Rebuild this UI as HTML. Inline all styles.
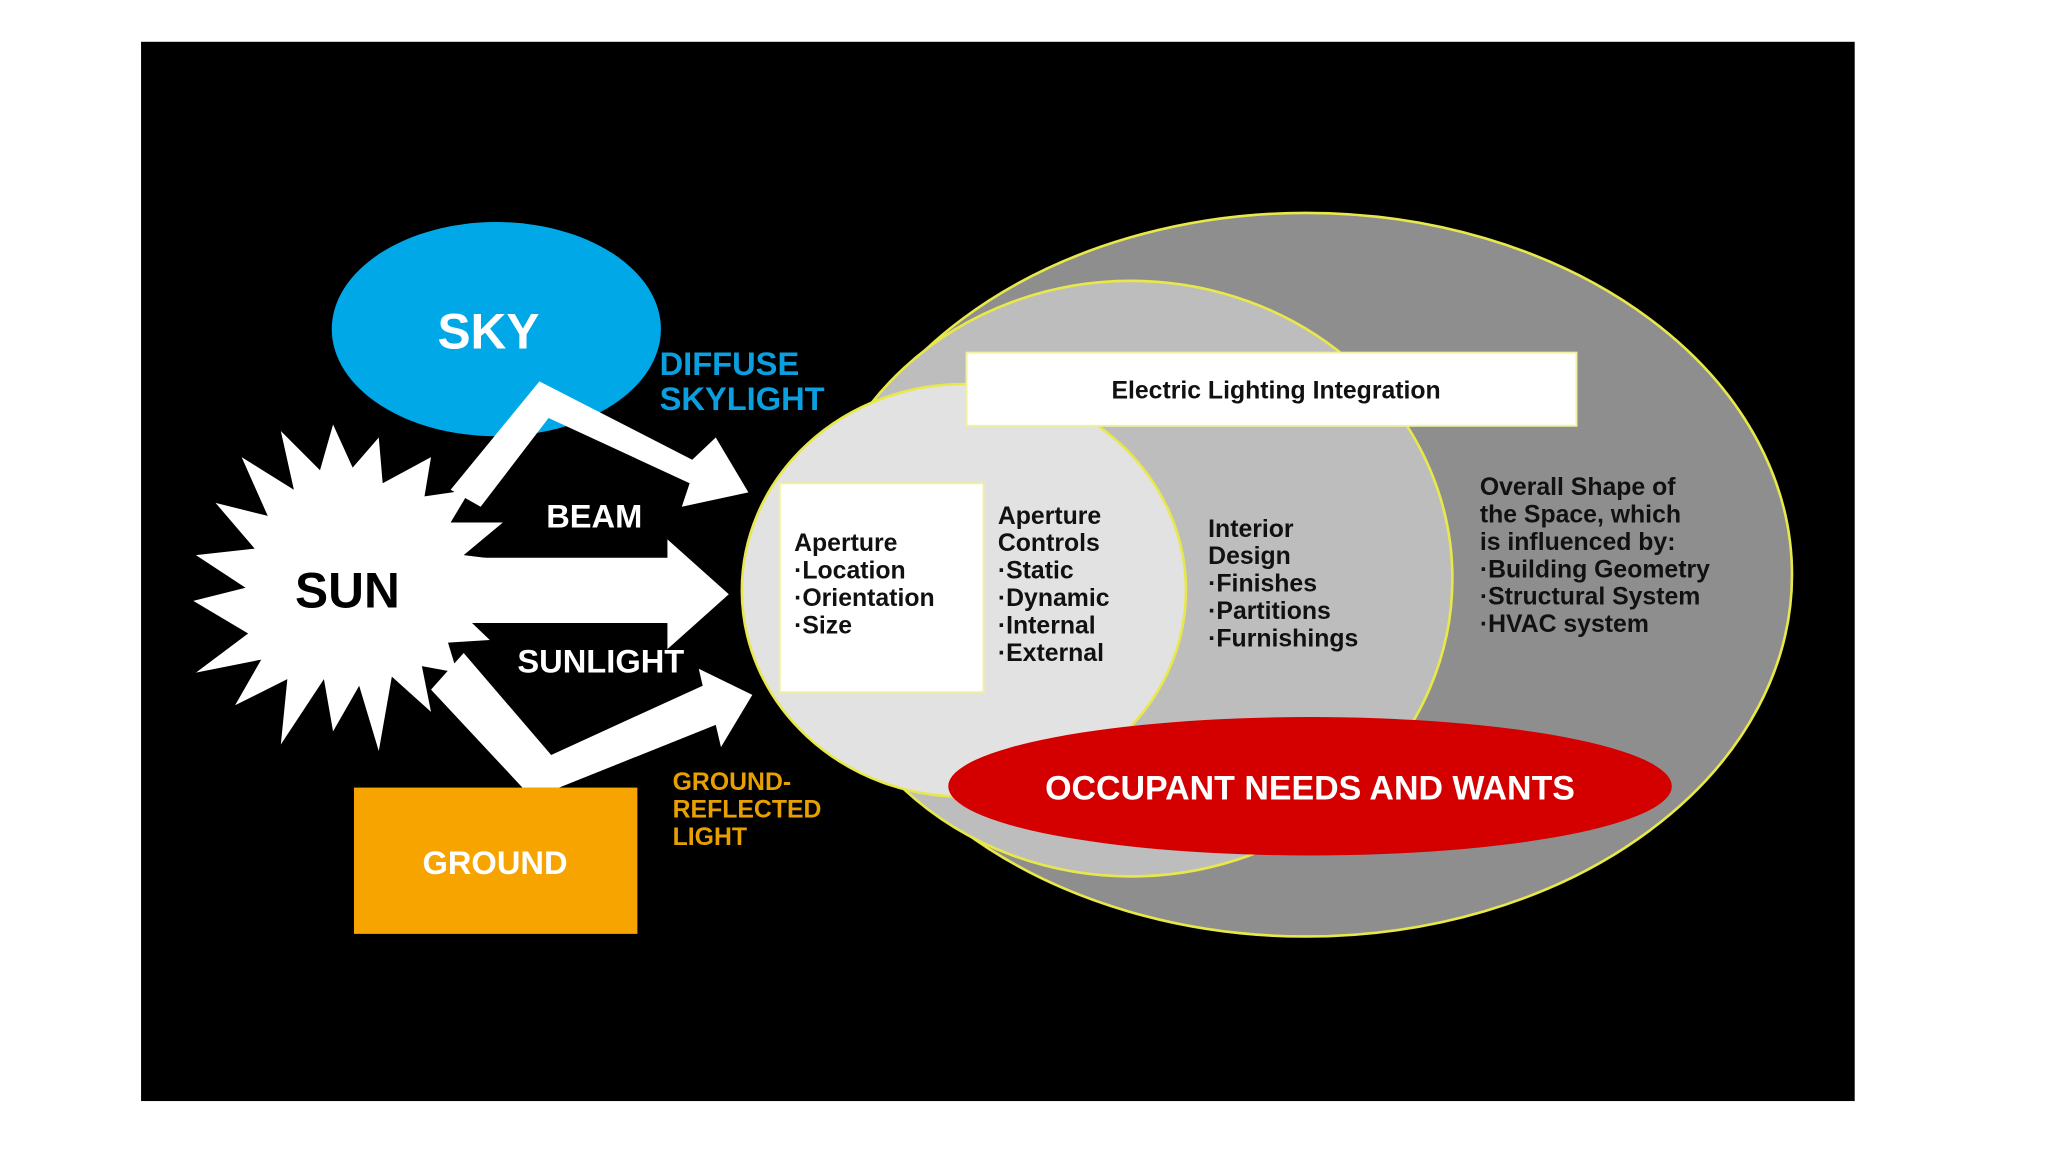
<!DOCTYPE html>
<html><head><meta charset="utf-8"><style>
html,body{margin:0;padding:0;background:#fff;width:2048px;height:1152px;overflow:hidden}
svg{display:block}
text{font-family:"Liberation Sans",Arial,sans-serif;font-weight:bold}
</style></head><body>
<svg width="2048" height="1152" viewBox="0 0 1568 882" preserveAspectRatio="none" xmlns="http://www.w3.org/2000/svg">
<rect x="0" y="0" width="1568" height="882" fill="#fff"/>
<rect x="108" y="32" width="1312" height="811" fill="#000"/>
<ellipse cx="1000" cy="440" rx="372" ry="277" fill="#8e8e8e" stroke="#e8e84a" stroke-width="2"/>
<ellipse cx="866" cy="443" rx="246" ry="228" fill="#bdbdbd" stroke="#e8e84a" stroke-width="2"/>
<ellipse cx="738" cy="452" rx="170" ry="158" fill="#e2e2e2" stroke="#e8e84a" stroke-width="2"/>
<rect x="597" y="370" width="156" height="160" fill="#fff" stroke="#f0f0a0" stroke-width="1.5"/>
<rect x="740" y="270" width="467" height="56" fill="#fff" stroke="#f0f0a0" stroke-width="1.5"/>
<text x="977" y="305" font-size="19" text-anchor="middle" fill="#111">Electric Lighting Integration</text>
<ellipse cx="1003" cy="602" rx="277" ry="53" fill="#d40000"/>
<text x="1003" y="612" font-size="26" text-anchor="middle" fill="#fff">OCCUPANT NEEDS AND WANTS</text>
<g font-size="19" fill="#111">
<text x="608" y="422">Aperture</text><text x="608" y="443">·Location</text><text x="608" y="464">·Orientation</text><text x="608" y="485">·Size</text>
<text x="764" y="401">Aperture</text><text x="764" y="422">Controls</text><text x="764" y="443">·Static</text><text x="764" y="464">·Dynamic</text><text x="764" y="485">·Internal</text><text x="764" y="506">·External</text>
<text x="925" y="411">Interior</text><text x="925" y="432">Design</text><text x="925" y="453">·Finishes</text><text x="925" y="474">·Partitions</text><text x="925" y="495">·Furnishings</text>
<text x="1133" y="379">Overall Shape of</text><text x="1133" y="400">the Space, which</text><text x="1133" y="421">is influenced by:</text><text x="1133" y="442">·Building Geometry</text><text x="1133" y="463">·Structural System</text><text x="1133" y="484">·HVAC system</text>
</g>
<ellipse cx="380" cy="252" rx="126" ry="82" fill="#00a8e8"/>
<text x="374" y="267" font-size="38" text-anchor="middle" fill="#fff">SKY</text>
<text x="505" y="287" font-size="25" fill="#0aa0e0">DIFFUSE</text>
<text x="505" y="314" font-size="25" fill="#0aa0e0">SKYLIGHT</text>
<rect x="271" y="603" width="217" height="112" fill="#f7a400"/>
<text x="379" y="669" font-size="25" text-anchor="middle" fill="#fff">GROUND</text>
<g font-size="19" fill="#e8a000"><text x="515" y="605">GROUND-</text><text x="515" y="626">REFLECTED</text><text x="515" y="647">LIGHT</text></g>
<polygon fill="#fff" points="390,450 352,468 375,490 343,492 350,515 323,510 330,545 300,518 290,575 275,525 255,560 248,520 215,570 220,520 180,540 200,505 150,515 190,485 148,460 188,450 150,425 195,420 165,385 205,395 185,350 225,375 215,330 245,360 255,325 270,358 290,335 293,370 330,350 325,380 360,375 345,400 385,400 355,425 395,430"/>
<text x="266" y="465" font-size="38" text-anchor="middle" fill="#000">SUN</text>
<polygon fill="#fff" points="345,375 413,292 530,352 548,335 573,377 522,388 528,370 420,320 368,388"/>
<polygon fill="#fff" points="350,427 511,427 511,413 558,455 511,497 511,477 350,477"/>
<polygon fill="#fff" points="355,500 422,578 538,525 535,512 576,532 552,572 548,555 428,603 400,603 330,528"/>
<text x="455" y="404" font-size="25" text-anchor="middle" fill="#fff">BEAM</text>
<text x="460" y="515" font-size="25" text-anchor="middle" fill="#fff">SUNLIGHT</text>
</svg>
</body></html>
